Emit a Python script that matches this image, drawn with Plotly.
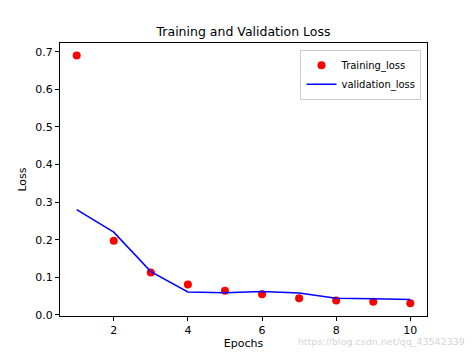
import plotly.graph_objects as go

epochs = [1, 2, 3, 4, 5, 6, 7, 8, 9, 10]
training_loss = [0.690, 0.197, 0.113, 0.081, 0.064, 0.055, 0.044, 0.038, 0.035, 0.031]
validation_loss = [0.280, 0.220, 0.115, 0.061, 0.059, 0.062, 0.058, 0.044, 0.043, 0.041]
x_ticks = [2, 4, 6, 8, 10]
y_ticks = [0.0, 0.1, 0.2, 0.3, 0.4, 0.5, 0.6, 0.7]

fig = go.Figure()
fig.add_trace(go.Scatter(x=epochs, y=training_loss, mode="markers", name="Training_loss",
                         marker=dict(color="red", size=8)))
fig.add_trace(go.Scatter(x=epochs, y=validation_loss, mode="lines", name="validation_loss",
                         line=dict(color="blue", width=1.5)))

font = "DejaVu Sans, sans-serif"
axis_common = dict(showline=True, linecolor="black", linewidth=1, mirror=True,
                   ticks="outside", ticklen=4, tickcolor="black", showgrid=False,
                   zeroline=False, automargin=False,
                   tickfont=dict(size=11, color="black", family=font))
# page body has an 8px default margin, so the figure is sized 466x347
fig.update_layout(
    width=466, height=347,
    margin=dict(l=52, r=47, t=35, b=39),
    paper_bgcolor="white", plot_bgcolor="white",
    font=dict(family=font, color="black"),
    title=dict(text="Training and Validation Loss", x=0.5, xanchor="center",
               xref="paper", y=1, yref="container", yanchor="top", pad=dict(t=19),
               font=dict(size=12.5, color="black", family=font)),
    xaxis=dict(range=[0.55, 10.45], tickvals=x_ticks,
               title=dict(text="Epochs", font=dict(size=11), standoff=2), **axis_common),
    yaxis=dict(range=[-0.003, 0.723], tickvals=y_ticks, tickformat=".1f",
               title=dict(text="Loss", font=dict(size=11), standoff=6), **axis_common),
    legend=dict(x=0.985, y=0.975, xanchor="right", yanchor="top",
                bordercolor="#cccccc", borderwidth=1, bgcolor="rgba(255,255,255,0.8)",
                font=dict(size=10, color="black", family=font), tracegroupgap=0,
                itemwidth=30),
    showlegend=True,
)
fig.add_annotation(text="https://blog.csdn.net/qq_43542339", xref="paper", yref="paper",
                   x=1.109, y=-0.094, xanchor="right", yanchor="middle", showarrow=False,
                   font=dict(size=9.5, color="rgba(200,200,200,0.8)", family=font))
fig.write_html("out.html")
